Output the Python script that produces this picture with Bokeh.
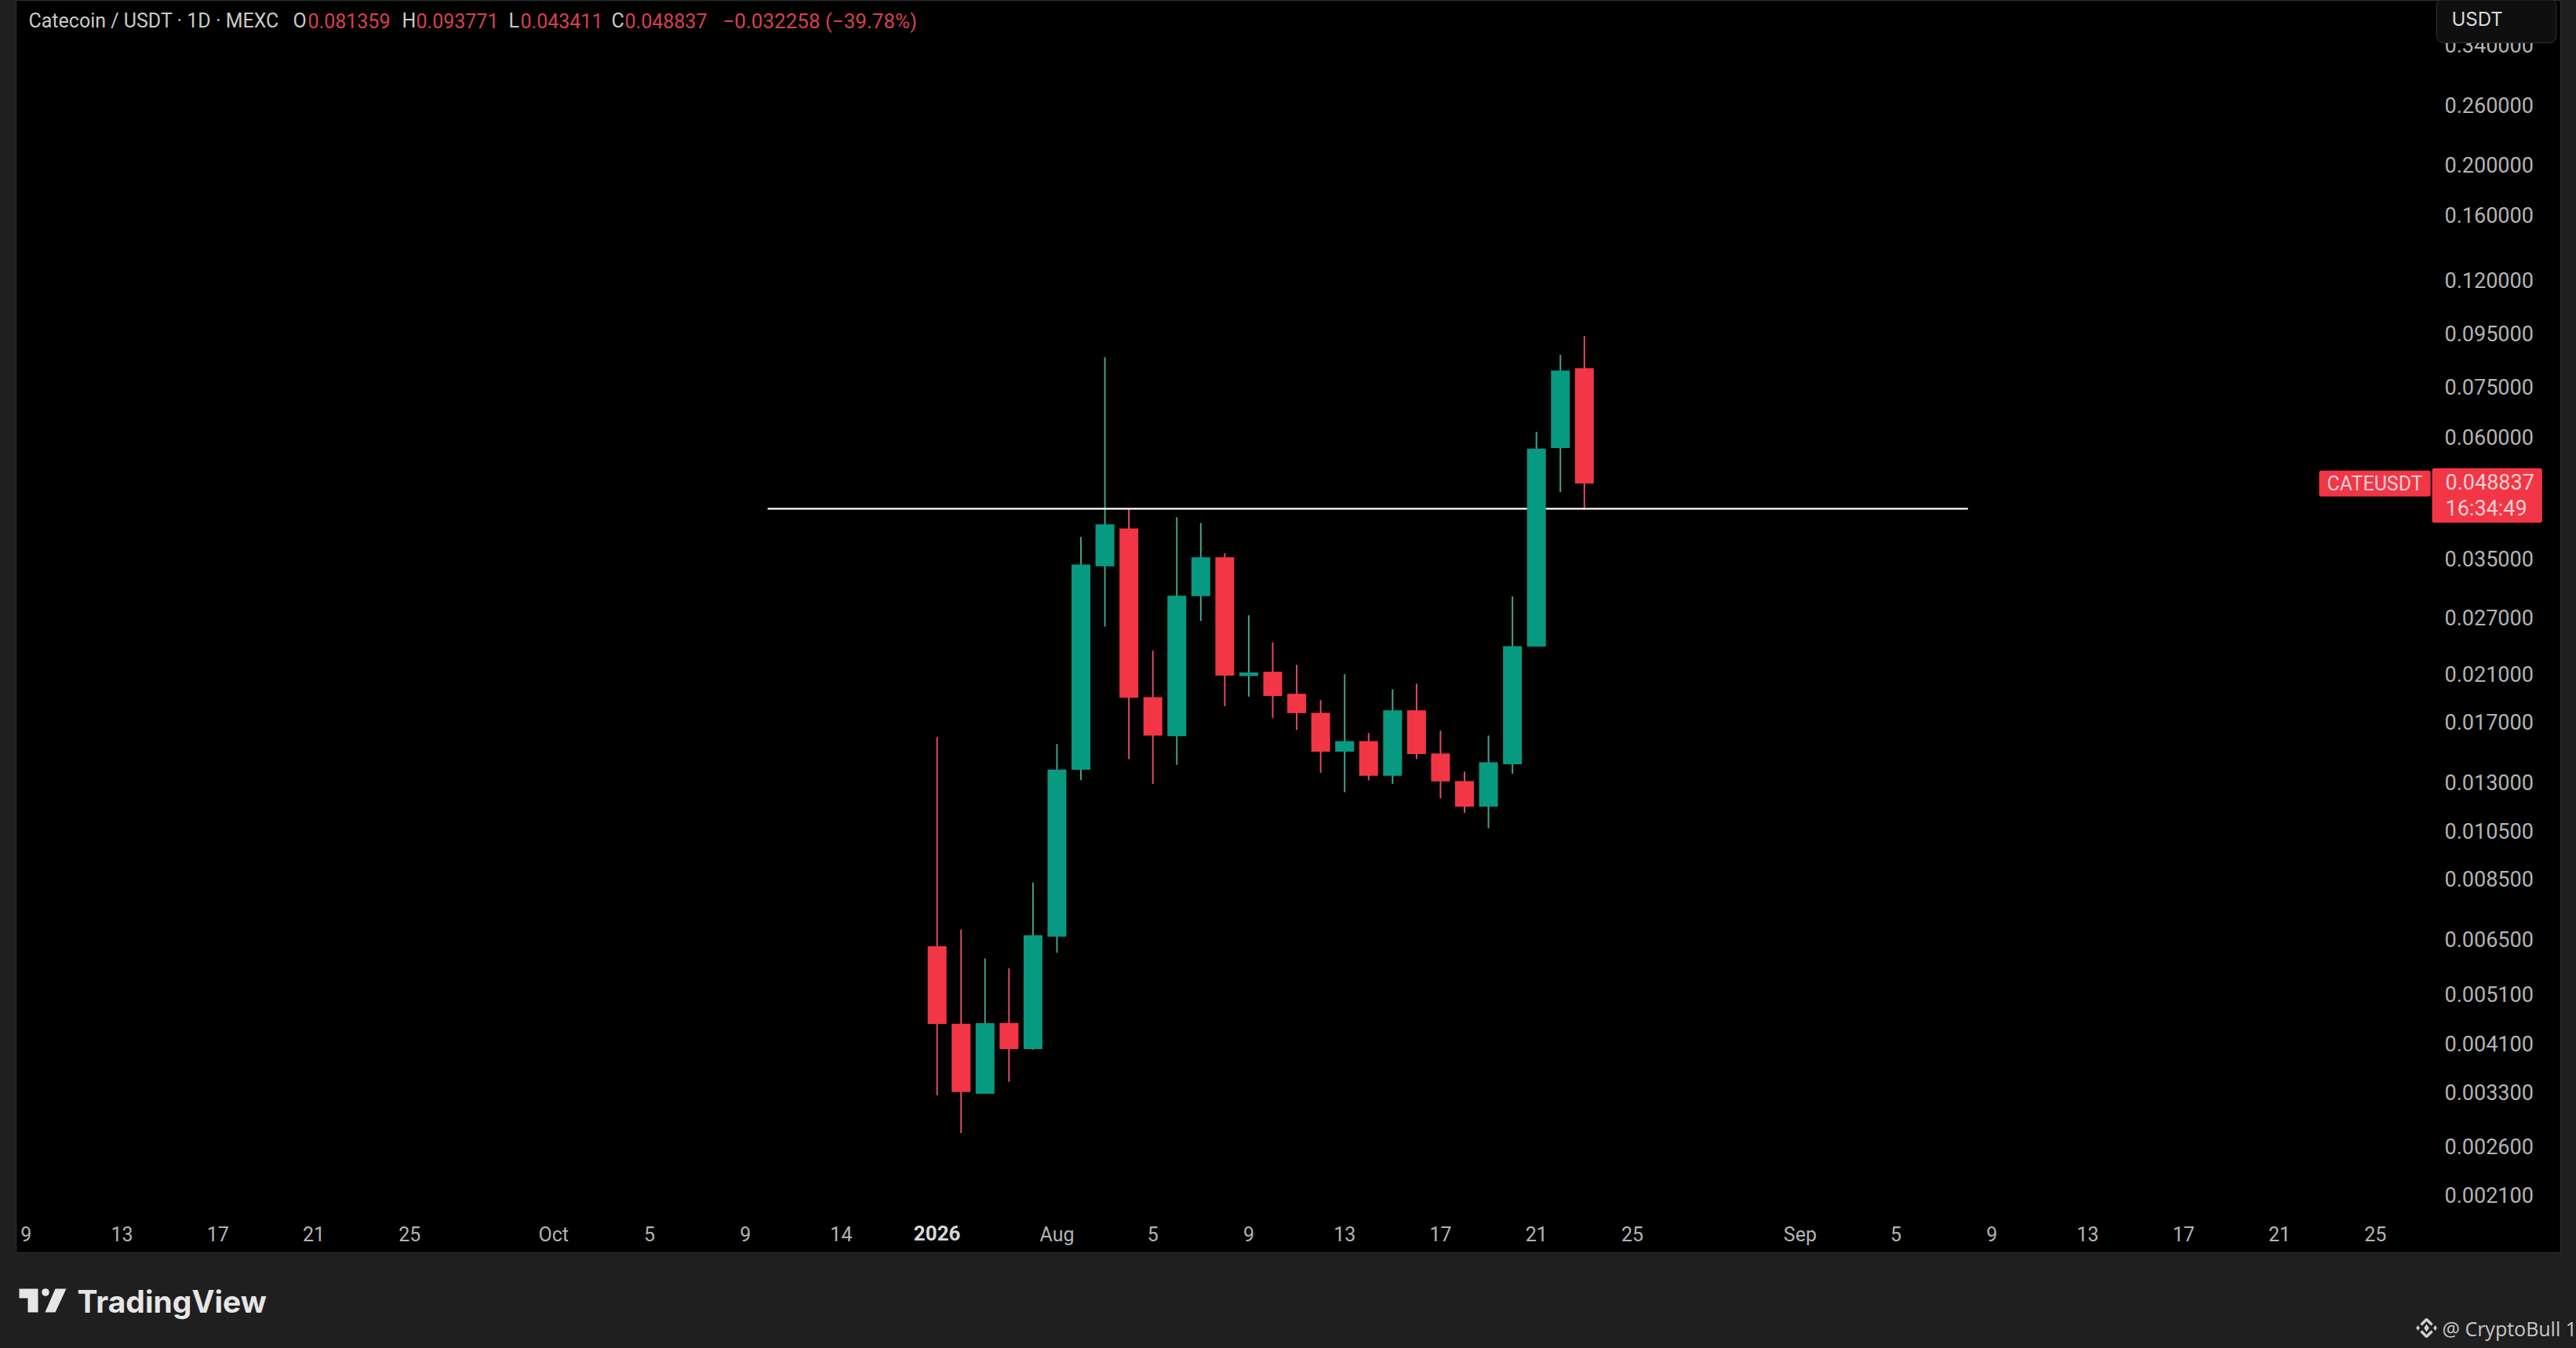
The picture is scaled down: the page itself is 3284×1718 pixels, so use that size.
from bokeh.plotting import figure
from bokeh.layouts import column
from bokeh.models import Label, FixedTicker, GlobalInlineStyleSheet, ColumnDataSource
from bokeh.embed import file_html
from bokeh.resources import INLINE

# ---- data -------------------------------------------------------------
days = list(range(-5, 23))   # bars, counted in days from 1 Aug
opens = [.006305, .004474, .003280, .004490, .003999, .006574, .01376, .03385, .04001, .01898, .01596, .02966, .03524, .02083,
         .02123, .01926, .01771, .01491, .01562, .01340, .01790, .01479, .01309, .01169, .01410, .02373, .05714, .081359]
closes = [.004469, .003306, .004486, .003999, .006618, .013774, .03411, .04075, .01893, .01601, .02971, .03524, .02087, .02116,
          .01907, .01768, .01491, .01562, .01340, .01790, .01475, .01307, .01169, .01423, .02377, .05697, .0805, .048837]
highs = [.015907, .006785, .005974, .005716, .008356, .015414, .03855, .08535, .04356, .02330, .04205, .04102, .03589, .02725,
         .02418, .02189, .01872, .02100, .01619, .01965, .02014, .01636, .01365, .01601, .02962, .06136, .08628, .093771]
lows = [.003260, .002759, .003280, .003459, .003988, .006127, .013148, .02593, .01443, .01293, .01406, .02658, .01823, .01902,
        .01730, .01641, .01357, .01246, .01313, .01293, .01443, .01213, .01137, .01062, .01352, .02373, .04700, .043411]
level_price = 0.04367
level_days = [-12.07, 38.0]
y_ticks = [.34, .26, .20, .16, .12, .095, .075, .06, .035, .027, .021, .017, .013, .0105, .0085, .0065, .0051, .0041, .0033, .0026, .0021]
y_labels = ["0.340000", "0.260000", "0.200000", "0.160000", "0.120000", "0.095000", "0.075000", "0.060000", "0.035000", "0.027000",
            "0.021000", "0.017000", "0.013000", "0.010500", "0.008500", "0.006500", "0.005100", "0.004100", "0.003300", "0.002600", "0.002100"]
x_ticks = [-43, -39, -35, -31, -27, -21, -17, -13, -9, 0, 4, 8, 12, 16, 20, 24, 31, 35, 39, 43, 47, 51, 55]
x_labels = ["9", "13", "17", "21", "25", "Oct", "5", "9", "14", "Aug", "5", "9", "13", "17", "21", "25", "Sep", "5", "9", "13", "17", "21", "25"]
last_close = 0.048837
header_grey = [("Catecoin / USDT · 1D · MEXC", 36), ("O", 373), ("H", 512), ("L", 648), ("C", 779)]
header_red = [("0.081359", 392), ("0.093771", 530), ("0.043411", 663), ("0.048837", 796)]
header_change = ("−0.032258 (−39.78%)", 921)

GREEN, RED = "#089981", "#F23645"
DARK, GREY = "#1f1f1f", "#b4b4b4"
FONT = "Roboto"

# ---- main chart: the frame fills the black panel, the axes sit inside it ---
PW, PH = 3245, 1597
p = figure(width=PW, height=PH, output_backend="svg", toolbar_location=None,
           y_axis_type="log", y_axis_location="right",
           x_range=(-43.42, 62.76), y_range=(0.001619, 0.4140),
           background_fill_color="#000000", border_fill_color="#000000",
           min_border_left=0, min_border_top=0, min_border_right=0, min_border_bottom=0,
           margin=(0, 0, 0, 20))
p.outline_line_color = "#2b2b2b"
p.outline_line_width = 1.5
p.grid.visible = False

for ax in (p.xaxis[0], p.yaxis[0]):
    ax.axis_line_color = None
    ax.major_tick_line_color = None
    ax.minor_tick_line_color = None
    ax.major_tick_in = 0
    ax.major_tick_out = 0
    ax.minor_tick_in = 0
    ax.minor_tick_out = 0
    ax.major_label_text_color = GREY
    ax.major_label_text_font = FONT

p.xaxis.ticker = FixedTicker(ticks=x_ticks)
p.xaxis.major_label_overrides = dict(zip(x_ticks, x_labels))
p.xaxis.major_label_text_font_size = "25px"
p.xaxis.major_label_standoff = -39
p.yaxis.ticker = FixedTicker(ticks=y_ticks)
p.yaxis.major_label_overrides = dict(zip(y_ticks, y_labels))
p.yaxis.major_label_text_font_size = "27px"
p.yaxis.major_label_standoff = -149

colors = [GREEN if c >= o else RED for o, c in zip(opens, closes)]
wicks = ["#45a08c" if c >= o else "#d84f60" for o, c in zip(opens, closes)]
src = ColumnDataSource(dict(x=days, o=opens, c=closes, h=highs, l=lows, col=colors, wick=wicks))
p.segment("x", "h", "x", "l", source=src, line_color="wick", line_width=2)
p.line(level_days, [level_price, level_price], line_color="#ffffff", line_width=2.2)
p.vbar("x", top="o", bottom="c", width=0.785, source=src, fill_color="col", line_color="col", line_width=0)

# labels: screen x from the frame's left edge, screen y from its bottom edge
def sx(px): return px - 20
def sy(py): return PH - py

for txt, x in header_grey:
    p.add_layout(Label(x=sx(x), y=sy(26), x_units="screen", y_units="screen", text=txt, text_font=FONT,
                       text_font_size="25px", text_color="#c9c9c9", text_baseline="middle"))
for txt, x in header_red:
    p.add_layout(Label(x=sx(x), y=sy(26), x_units="screen", y_units="screen", text=txt, text_font=FONT,
                       text_font_size="25px", text_color="#d3424f", text_baseline="middle"))
p.add_layout(Label(x=sx(header_change[1]), y=sy(26), x_units="screen", y_units="screen", text=header_change[0], text_font=FONT,
                   text_font_size="26px", text_color="#d3424f", text_baseline="middle"))

p.add_layout(Label(x=-5, y=sy(1571), y_units="screen", text="2026", text_font=FONT, text_font_size="26px",
                   text_font_style="bold", text_color="#d8d8d8", text_align="center", text_baseline="middle"))

# padding order here is (left, right, top, bottom)
p.add_layout(Label(x=sx(3106), y=sy(26), x_units="screen", y_units="screen", text="USDT", text_font="Inter",
                   text_font_size="24px", text_color="#dcdcdc", text_baseline="middle",
                   background_fill_color="#0f0f0f", border_line_color="#333333", border_radius=8,
                   padding=(19, 68, 11, 16)))
p.add_layout(Label(x=sx(2956), y=last_close, x_units="screen", text="CATEUSDT", text_font=FONT,
                   text_font_size="25px", text_color="#f5d0d4", text_baseline="middle",
                   background_fill_color=RED, border_radius=3, padding=(10, 10, 2, 2)))
p.add_layout(Label(x=sx(3100), y=sy(631), x_units="screen", y_units="screen", text="0.048837\n16:34:49", text_font=FONT,
                   text_font_size="27px", text_color="#f5d0d4", text_baseline="middle", text_line_height=1.05,
                   background_fill_color=RED, border_radius=3, padding=(17, 10, 2, 2)))

# ---- footer -------------------------------------------------------------
f = figure(width=3284, height=121, output_backend="svg", toolbar_location=None,
           x_range=(0, 3284), y_range=(1718, 1597), x_axis_type=None, y_axis_type=None,
           background_fill_color=DARK, border_fill_color=DARK,
           min_border_left=0, min_border_top=0, min_border_right=0, min_border_bottom=0, margin=(0, 0, 0, 0))
f.outline_line_color = None
f.grid.visible = False
LOGO = "#e6e6e6"
f.patch([24, 48, 48, 35, 35, 24], [1642, 1642, 1672, 1672, 1654, 1654], fill_color=LOGO, line_color=None)
f.circle([57.5], [1646.5], radius=4.8, fill_color=LOGO, line_color=None)
f.patch([70, 84, 70, 57], [1642, 1642, 1672, 1672], fill_color=LOGO, line_color=None)
f.text([98], [1658], text=["TradingView"], text_font={"value": "Inter"}, text_font_size={"value": "39px"},
       text_font_style="bold", text_color=LOGO, text_baseline="middle")
f.scatter([3093, 3082, 3104], [1692, 1692, 1692], marker="diamond", size=[10, 7, 7], fill_color="#d0d0d0", line_color=None)
f.multi_line([[3086, 3093, 3100], [3086, 3093, 3100]], [[1688, 1681, 1688], [1696, 1703, 1696]], line_color="#d0d0d0", line_width=3.5)
f.text([3113], [1692], text=["@ CryptoBull 1"], text_font={"value": "Open Sans"}, text_font_size={"value": "25px"},
       text_color="#c8c8c8", text_baseline="middle")

page = column(p, f, margin=(0, 0, 0, 0), spacing=0,
              stylesheets=[GlobalInlineStyleSheet(css="html,body{background:#1f1f1f;margin:0;overflow:hidden;}")])
open("out.html", "w").write(file_html(page, INLINE))
